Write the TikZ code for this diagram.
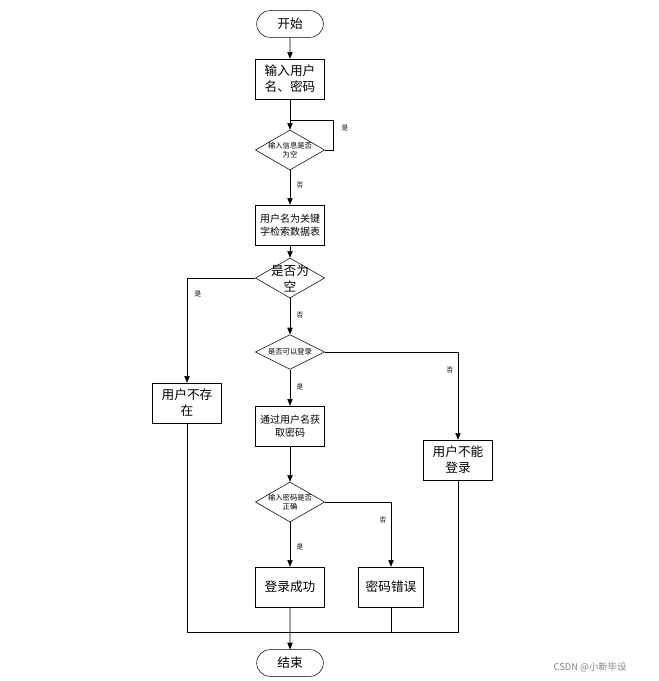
\documentclass[tikz,border=0pt]{standalone}
\usepackage{fontspec}
\newfontfamily\cjk{Noto Sans CJK SC}
\usetikzlibrary{positioning,arrows.meta,shapes.geometric,shapes.misc}

\begin{document}
\begin{tikzpicture}[x=0.75pt, y=-0.75pt, font=\cjk\fontsize{9.5}{12}\selectfont,
  term/.style={draw, rounded rectangle, minimum width=52pt, minimum height=20pt, inner sep=1pt},
  box/.style={draw, align=center, minimum width=52pt, minimum height=30pt, inner sep=1pt},
  dec/.style={draw, diamond, minimum width=52pt, minimum height=30pt, inner sep=0pt},
  dtxt/.style={font=\cjk\fontsize{5.5}{7}\selectfont, align=center},
  lbl/.style={font=\cjk\fontsize{5}{6}\selectfont},
  arr/.style={-{Triangle[length=5pt,width=4pt]}}]

  \useasboundingbox (0,0) rectangle (659,681);

  % Nodes
  \node[term] (start) at (290,24) {开始};
  \node[box] (input) at (290,79) {输入用户\\名、密码};
  \node[dec, label={[dtxt]center:输入信息是否\\为空}] (empty) at (290,150) {};
  \node[box, font=\cjk\fontsize{7.5}{10}\selectfont] (search) at (290,225) {用户名为关键\\字检索数据表};
  \node[dec, label={[dtxt, font=\cjk\fontsize{9.5}{12}\selectfont]center:是否为\\空}] (found) at (290,278) {};
  \node[dec, minimum height=26pt, label={[dtxt]center:是否可以登录}] (allow) at (290,352) {};
  \node[box] (nouser) at (187,403) {用户不存\\在};
  \node[box, font=\cjk\fontsize{7.5}{10}\selectfont] (getpw) at (290,426) {通过用户名获\\取密码};
  \node[box] (deny) at (458,460) {用户不能\\登录};
  \node[dec, label={[dtxt]center:输入密码是否\\正确}] (check) at (290,502) {};
  \node[box] (ok) at (290,587) {登录成功};
  \node[box, minimum width=49pt] (wrong) at (391,587) {密码错误};
  \node[term] (stop) at (290,663) {结束};
  \coordinate (merge) at (290,632);

  % Connectors
  \draw[arr] (start) -- (input);
  \draw[arr] (input) -- (empty);
  \draw (empty.east) -- ++(8,0) |- (290,120);
  \draw[arr] (empty) -- (search);
  \draw[arr] (search) -- (found);
  \draw[arr] (found.west) -| (nouser);
  \draw[arr] (found) -- (allow);
  \draw[arr] (allow.east) -| (deny);
  \draw[arr] (allow) -- (getpw);
  \draw[arr] (getpw) -- (check);
  \draw[arr] (check.east) -| (wrong);
  \draw[arr] (check) -- (ok);
  \draw (nouser) |- (deny.south |- merge) -- (deny);
  \draw (wrong) -- (wrong.south |- merge);
  \draw[arr] (ok) -- (merge) -- (stop);

  % Labels
  \node[lbl] (l1) at (345,128) {是};
  \node[lbl] (l2) at (300,185) {否};
  \node[lbl] (l3) at (198,294) {是};
  \node[lbl] (l4) at (300,315) {否};
  \node[lbl] (l5) at (450,370) {否};
  \node[lbl] (l6) at (300,387) {是};
  \node[lbl] (l7) at (383,520) {否};
  \node[lbl] (l8) at (300,547) {是};
  \node[text=gray, font=\cjk\fontsize{7}{8}\selectfont] (mark) at (590,667) {CSDN @小新毕设};
\end{tikzpicture}
\end{document}
